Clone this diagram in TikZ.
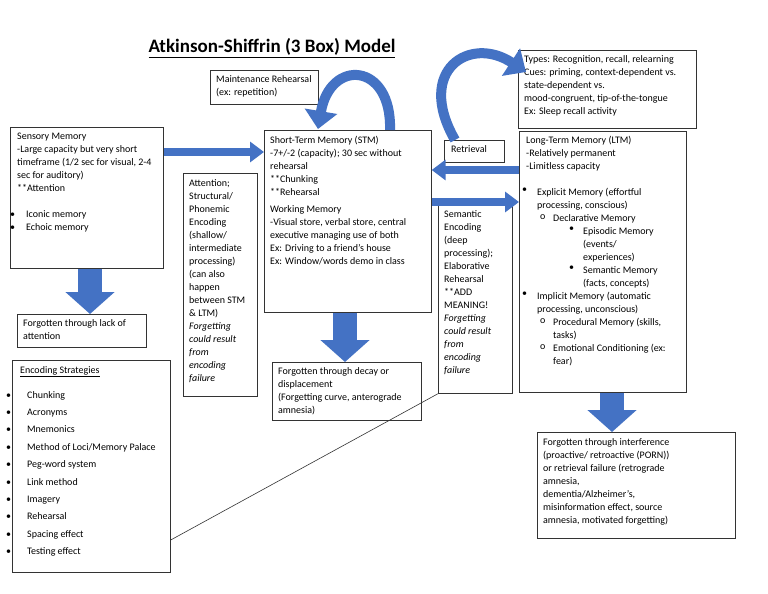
\documentclass[tikz,border=0pt]{standalone}
\usepackage{fontspec}
\setmainfont{Carlito}
\usetikzlibrary{arrows.meta,calc}
\definecolor{ablue}{HTML}{4472C4}
\tikzset{
  box/.style={draw=black!80,line width=0.7pt,anchor=north west,inner sep=0pt},
  txt/.style={anchor=north west,align=left,inner sep=0pt,font=\fontsize{10}{13}\selectfont},
  harrow/.style={ablue,line width=8pt,-{Triangle[length=14pt,width=20pt]}},
  varrow/.style={ablue,line width=24pt,-{Triangle[length=22pt,width=48pt]}},
  carrow/.style={ablue,line width=10pt,-{Triangle[length=18pt,width=32pt]}},
}
\newcommand{\bx}[5]{\node[box,minimum width=#4-#2,minimum height=#5-#3] (#1) at (#2,#3) {};}
\begin{document}
\begin{tikzpicture}[x=1pt,y=-1pt]
\fill[white] (0,0) rectangle (768,594);
\useasboundingbox (0,0) rectangle (768,594);

\node[anchor=center,font=\bfseries\fontsize{19}{22}\selectfont] (title) at (272,48) {\underline{Atkinson-Shiffrin (3 Box) Model}};

% boxes
\bx{maint}{210}{70}{318}{104}
\bx{types}{518}{50}{696}{128}
\bx{sens}{10}{127}{163}{268}
\bx{stm}{264}{130}{431}{312}
\bx{retr}{444}{140}{504}{162}
\bx{ltm}{519}{131}{686}{392}
\bx{att}{183}{173}{257}{396}
\bx{sem}{438}{204}{512}{393}
\bx{fatt}{17}{314}{146}{347}
\bx{enc}{12}{360}{170}{572}
\bx{fdec}{272}{362}{421}{420}
\bx{fint}{537}{432}{735}{538}

% texts
\node[txt] (tmaint) at (216,75) {Maintenance Rehearsal\\(ex: repetition)};
\node[txt] (ttypes) at (524,55) {Types: Recognition, recall, relearning\\Cues: priming, context-dependent vs.\\state-dependent vs.\\mood-congruent, tip-of-the-tongue\\Ex: Sleep recall activity};
\node[txt] (tsens) at (17,133) {Sensory Memory\\-Large capacity but very short\\timeframe (1/2 sec for visual, 2-4\\sec for auditory)\\**Attention};
\node[txt] (tsensb) at (10,210) {\textbullet\hspace{11pt}Iconic memory\\\textbullet\hspace{11pt}Echoic memory};
\node[txt] (tstm) at (270,136) {Short-Term Memory (STM)\\-7+/-2 (capacity); 30 sec without\\rehearsal\\**Chunking\\**Rehearsal\\[4pt]Working Memory\\-Visual store, verbal store, central\\executive managing use of both\\Ex: Driving to a friend’s house\\Ex: Window/words demo in class};
\node[txt] (tretr) at (451,145) {Retrieval};
\node[txt] (tltm) at (526,136) {Long-Term Memory (LTM)\\-Relatively permanent\\-Limitless capacity};
\node[txt] (tb1) at (522,188) {\textbullet};
\node[txt] (tex) at (537,188) {Explicit Memory (effortful\\processing, conscious)};
\node[txt] (to1) at (540,214) {o};
\node[txt] (tdecl) at (553,214) {Declarative Memory};
\node[txt] (ts1) at (569,227) {\textbullet};
\node[txt] (tepi) at (583,227) {Episodic Memory\\(events/\\experiences)};
\node[txt] (ts2) at (569,266) {\textbullet};
\node[txt] (tsemm) at (583,266) {Semantic Memory\\(facts, concepts)};
\node[txt] (tb2) at (522,292) {\textbullet};
\node[txt] (timp) at (537,292) {Implicit Memory (automatic\\processing, unconscious)};
\node[txt] (to2) at (540,318) {o};
\node[txt] (tproc) at (553,318) {Procedural Memory (skills,\\tasks)};
\node[txt] (to3) at (540,344) {o};
\node[txt] (temo) at (553,344) {Emotional Conditioning (ex:\\fear)};
\node[txt] (tatt) at (189,179) {Attention;\\Structural/\\Phonemic\\Encoding\\(shallow/\\intermediate\\processing)\\(can also\\happen\\between STM\\\& LTM)\\\textit{Forgetting}\\\textit{could result}\\\textit{from}\\\textit{encoding}\\\textit{failure}};
\node[txt] (tsem) at (444,210) {Semantic\\Encoding\\(deep\\processing);\\Elaborative\\Rehearsal\\**ADD\\MEANING!\\\textit{Forgetting}\\\textit{could result}\\\textit{from}\\\textit{encoding}\\\textit{failure}};
\node[txt] (tfatt) at (23,319) {Forgotten through lack of\\attention};
\node[txt] (tfdec) at (278,367) {Forgotten through decay or\\displacement\\(Forgetting curve, anterograde\\amnesia)};
\node[txt] (tfint) at (543,438) {Forgotten through interference\\(proactive/ retroactive (PORN))\\or retrieval failure (retrograde\\amnesia,\\dementia/Alzheimer’s,\\misinformation effect, source\\amnesia, motivated forgetting)};
\node[txt] (tenc) at (20,366) {\underline{Encoding Strategies}};
\node[txt,font=\fontsize{10}{17.4}\selectfont] (tencl) at (6,391) {\textbullet\hspace{16pt}Chunking\\\textbullet\hspace{16pt}Acronyms\\\textbullet\hspace{16pt}Mnemonics\\\textbullet\hspace{16pt}Method of Loci/Memory Palace\\\textbullet\hspace{16pt}Peg-word system\\\textbullet\hspace{16pt}Link method\\\textbullet\hspace{16pt}Imagery\\\textbullet\hspace{16pt}Rehearsal\\\textbullet\hspace{16pt}Spacing effect\\\textbullet\hspace{16pt}Testing effect};

% line from encoding strategies to semantic box
\draw[black!80,line width=0.6pt] (enc.east |- 0,540) -- (sem.south west);

% horizontal arrows
\draw[harrow] (sens.east |- 0,152) -- (stm.west |- 0,152);
\draw[harrow] (ltm.west |- 0,170) -- (stm.east |- 0,170);
\draw[harrow] (stm.east |- 0,202) -- (ltm.west |- 0,202);

% down arrows
\draw[varrow] (sens.south -| 90,0) -- (fatt.north -| 90,0);
\draw[varrow] (stm.south -| 345,0) -- (fdec.north -| 345,0);
\draw[varrow] (ltm.south -| 612,0) -- (fint.north -| 612,0);

% curved arrows
\draw[carrow] (stm.north -| 390,0) .. controls (392,62) and (330,58) .. (318,129);
\draw[carrow] (retr.north -| 455,0) .. controls (415,70) and (470,35) .. (526,72);
\end{tikzpicture}
\end{document}
